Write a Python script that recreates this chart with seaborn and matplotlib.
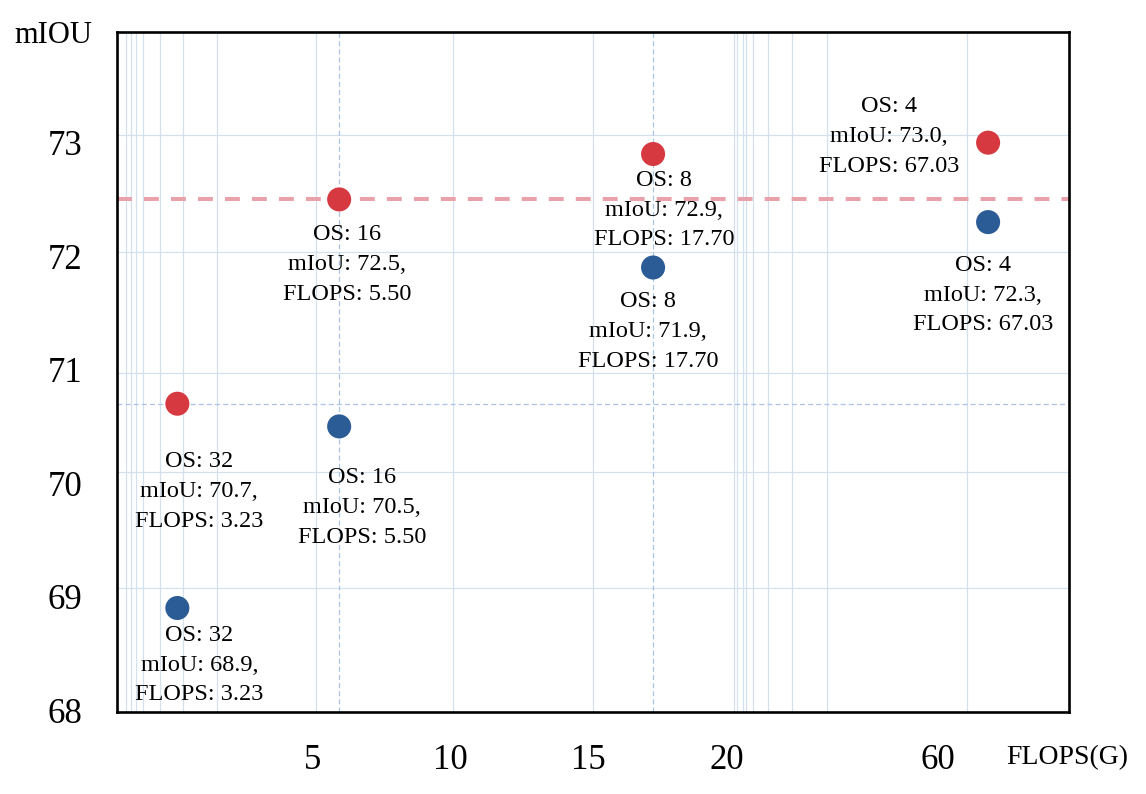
import numpy as np
import pandas as pd
import matplotlib.pyplot as plt
import seaborn as sns

# values
flops = [3.23, 5.50, 17.70, 67.03]
output_stride = [32, 16, 8, 4]
miou_red = [70.7, 72.5, 72.9, 73.0]
miou_blue = [68.9, 70.5, 71.9, 72.3]

# axis ticks as shown (labels sit where the original drew them)
xtick_pos = [5.01, 8.19, 13.77, 23.65, 54.8]
xtick_labels = ['5', '10', '15', '20', '60']
xgrid_pos = [2.77, 2.81, 2.85, 2.91, 3.06, 3.29, 3.66, 5.08, 8.28, 14.03,
             24.3, 24.6, 25.2, 25.5, 26.2, 27.8, 30.6, 35.1, 61.6]
ytick_pos = [68, 69, 70, 71, 72, 73]
ygrid_pos = [69.077, 70.099, 70.971, 72.037, 73.068]

# label offsets in pixels (dx, dy) from each point, red then blue
red_offsets = [(22, -88), (8, -65), (11, -56), (-99, 6)]
blue_offsets = [(22, -57), (23, -81), (-5, -64), (-5, -73)]

sns.set_theme(style='white')
plt.rcParams['font.family'] = ['Liberation Serif', 'DejaVu Serif']

df = pd.DataFrame({
    'FLOPS': flops * 2,
    'mIoU': miou_red + miou_blue,
    'OS': output_stride * 2,
    'series': ['red'] * 4 + ['blue'] * 4,
})

fig, ax = plt.subplots(figsize=(11.46, 7.94), dpi=100)
fig.subplots_adjust(left=0.1021, right=0.9328, bottom=0.1033, top=0.9597)

ax.set_xscale('function', functions=(lambda x: np.log10(np.clip(x - 0.8, 1e-6, None)),
                                      lambda y: 10 ** y + 0.8))

grid_col = '#d3e0ee'
for g in xgrid_pos:
    ax.axvline(g, color=grid_col, lw=0.9, zorder=1)
for g in ygrid_pos:
    ax.axhline(g, color=grid_col, lw=0.9, zorder=1)

# reference lines
dash_blue = '#a8c4e6'
ax.axhline(miou_red[1], color='#e9a2a9', lw=2.9, ls=(0, (3.7, 3.0)), zorder=2)
ax.axhline(miou_red[0], color=dash_blue, lw=0.9, ls=(0, (4, 2.5)), zorder=2)
ax.axvline(flops[1], color=dash_blue, lw=0.9, ls=(0, (4, 2.5)), zorder=2)
ax.axvline(flops[2], color=dash_blue, lw=0.9, ls=(0, (4, 2.5)), zorder=2)

sns.scatterplot(data=df, x='FLOPS', y='mIoU', hue='series',
                palette={'red': '#d63a40', 'blue': '#2b5c96'},
                s=300, edgecolor='none', legend=False, ax=ax, zorder=5)

for series, vals, offs in [('red', miou_red, red_offsets), ('blue', miou_blue, blue_offsets)]:
    for f, m, o, (dx, dy) in zip(flops, vals, output_stride, offs):
        ax.annotate(f'OS: {o}\nmIoU: {m:.1f},\nFLOPS: {f:.2f}', (f, m),
                    xytext=(dx, dy), textcoords='offset pixels',
                    ha='center', va='center', multialignment='center',
                    fontsize=17.5, linespacing=1.55, color='black', zorder=6)

ax.set_xlim(2.70, 92.9)
ax.set_ylim(67.984, 73.975)

ax.set_xticks(xtick_pos)
ax.set_xticklabels(xtick_labels, fontsize=25, color='black')
ax.set_xticks([], minor=True)
ax.set_yticks(ytick_pos)
ax.set_yticklabels([str(v) for v in ytick_pos], fontsize=25, color='black')
ax.tick_params(axis='x', length=0, pad=23)
ax.tick_params(axis='y', length=0, pad=25)
ax.set_xlabel('')
ax.set_ylabel('')

for sp in ax.spines.values():
    sp.set_color('black')
    sp.set_linewidth(1.9)
    sp.set_zorder(7)

fig.text(0.0462, 0.9559, 'mIOU', fontsize=22, ha='center', va='center', color='black')
fig.text(0.931, 0.0453, 'FLOPS(G)', fontsize=20, ha='center', va='center', color='black')

fig.savefig('out.png', dpi=100)
